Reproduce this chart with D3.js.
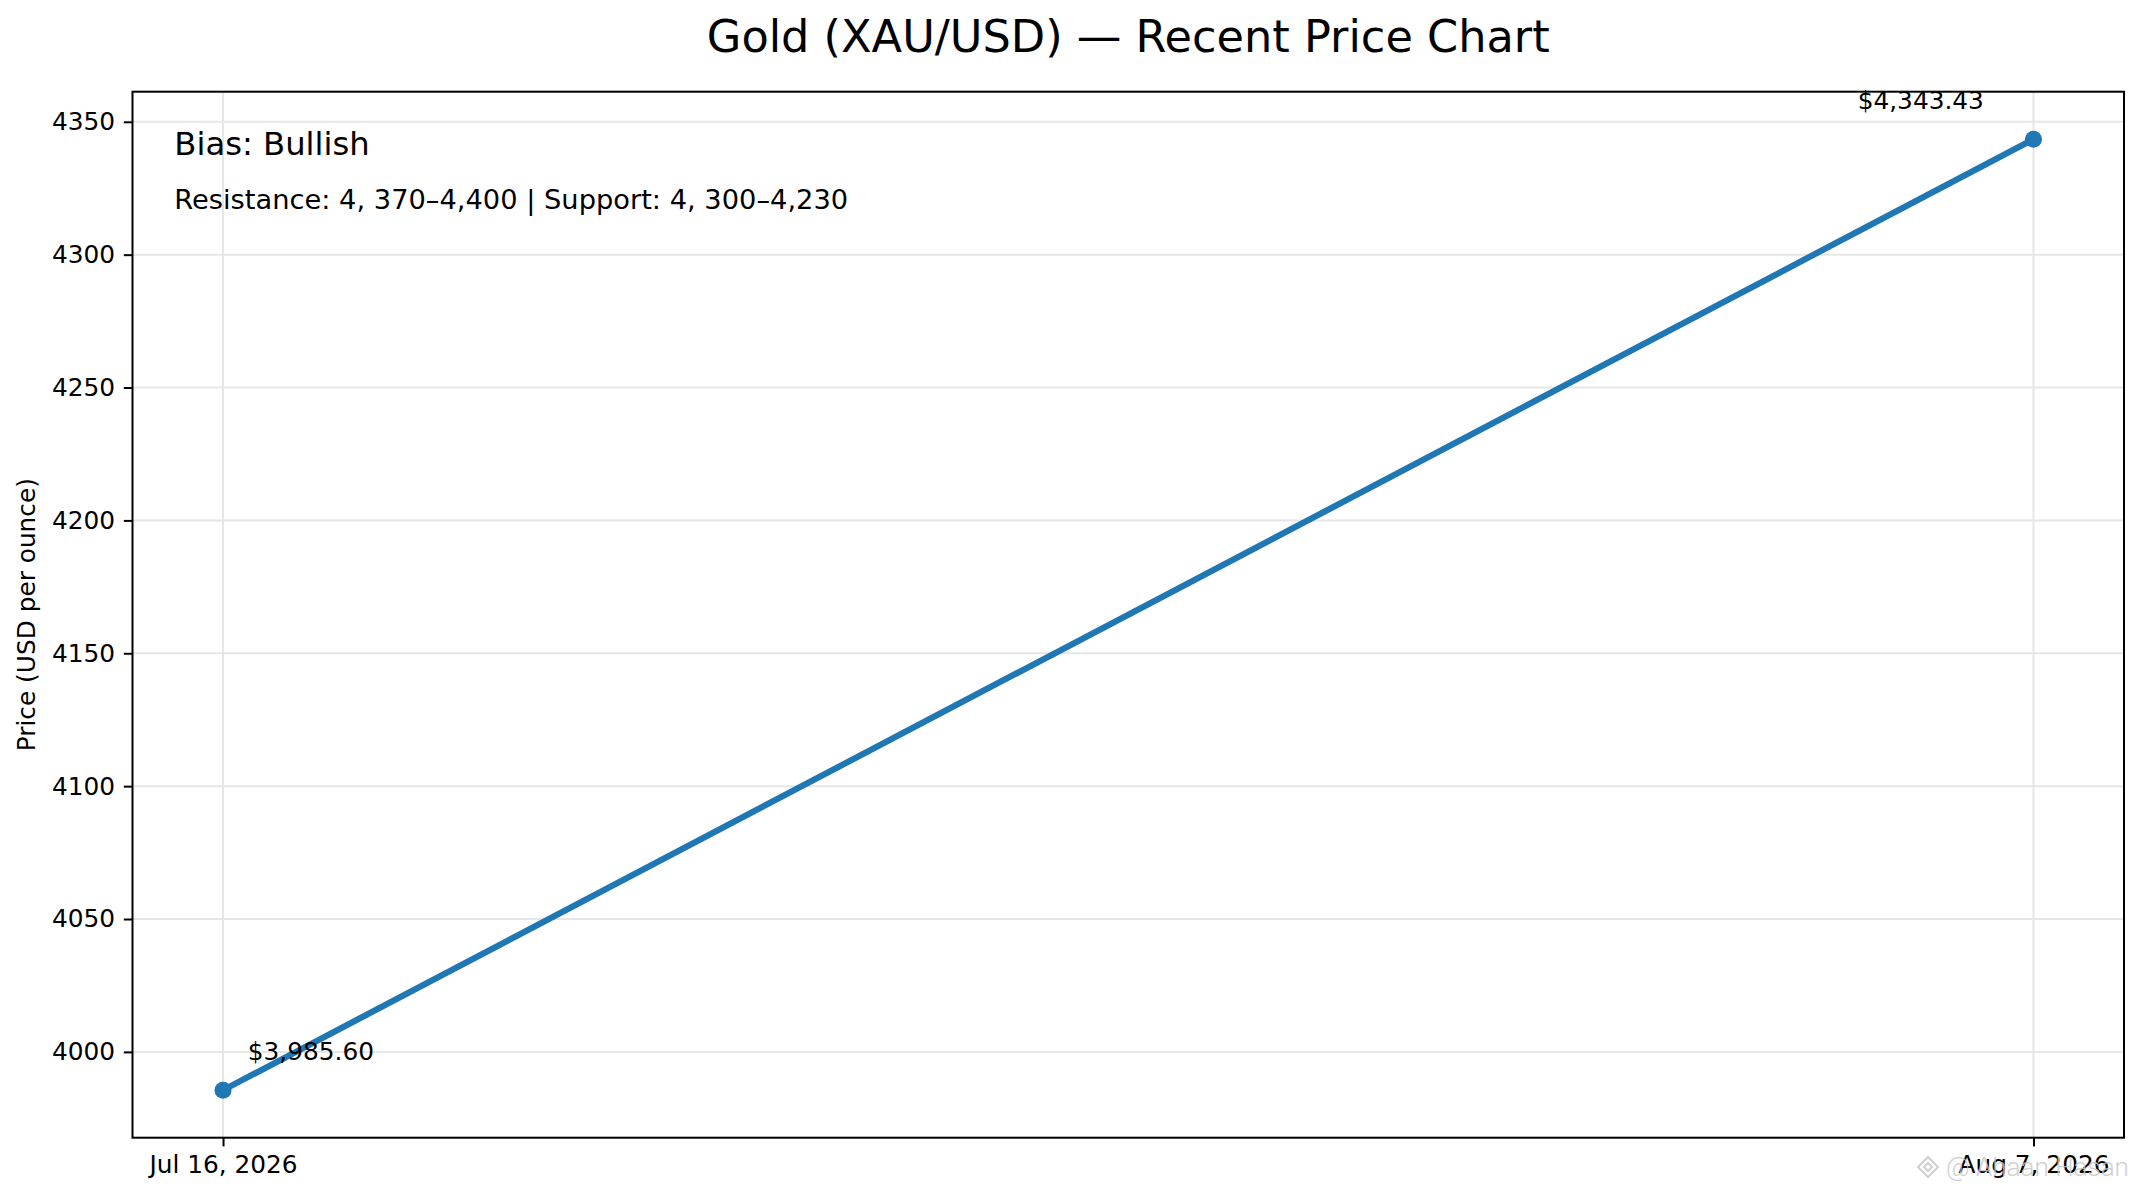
<!DOCTYPE html>
<html>
<head>
<meta charset="utf-8">
<script src="https://cdn.jsdelivr.net/npm/d3@7"></script>
<style>
  html, body { margin: 0; padding: 0; background: #fff; }
  svg { display: block; font-family: "DejaVu Sans", sans-serif; }
</style>
</head>
<body>
<div id="chart"></div>
<script>
// chart values
const dates = ["2026-07-16", "2026-08-07"];
const prices = [3985.60, 4343.43];
const priceLabels = ["$3,985.60", "$4,343.43"];
const xTickLabels = ["Jul 16, 2026", "Aug 7, 2026"];
const yTickValues = [4000, 4050, 4100, 4150, 4200, 4250, 4300, 4350];
const titleText = "Gold (XAU/USD) \u2014 Recent Price Chart";
const yLabelText = "Price (USD per ounce)";
const biasText = "Bias: Bullish";
const levelsText = "Resistance: 4, 370\u20134,400 | Support: 4, 300\u20134,230";

const width = 2141, height = 1197;
const margin = { top: 91.7, right: 17, bottom: 59.3, left: 132.5 };
const innerW = width - margin.left - margin.right;
const innerH = height - margin.top - margin.bottom;
const pt = 2.48; // px per point

const parse = d3.timeParse("%Y-%m-%d");
const data = dates.map((d, i) => ({ date: parse(d), price: prices[i], label: priceLabels[i] }));

// matplotlib style 5% margins
const xExt = d3.extent(data, d => +d.date);
const xPad = (xExt[1] - xExt[0]) * 0.05;
const yExt = d3.extent(data, d => d.price);
const yPad = (yExt[1] - yExt[0]) * 0.05;

const x = d3.scaleTime()
  .domain([new Date(xExt[0] - xPad), new Date(xExt[1] + xPad)])
  .range([0, innerW]);

const y = d3.scaleLinear()
  .domain([yExt[0] - yPad, yExt[1] + yPad])
  .range([innerH, 0]);

const svg = d3.select("#chart").append("svg")
  .attr("width", width)
  .attr("height", height);

svg.append("text")
  .attr("x", margin.left + innerW / 2)
  .attr("y", 52.3)
  .attr("text-anchor", "middle")
  .attr("font-size", 18 * pt)
  .attr("fill", "#000")
  .text(titleText);

const g = svg.append("g")
  .attr("transform", `translate(${margin.left},${margin.top})`);

// grid
g.append("g").selectAll("line.hgrid")
  .data(yTickValues)
  .join("line")
  .attr("x1", 0).attr("x2", innerW)
  .attr("y1", d => y(d)).attr("y2", d => y(d))
  .attr("stroke", "#e6e6e6")
  .attr("stroke-width", 2);

g.append("g").selectAll("line.vgrid")
  .data(data)
  .join("line")
  .attr("x1", d => x(d.date)).attr("x2", d => x(d.date))
  .attr("y1", 0).attr("y2", innerH)
  .attr("stroke", "#e6e6e6")
  .attr("stroke-width", 2);

// axes
const xAxis = d3.axisBottom(x)
  .tickValues(data.map(d => d.date))
  .tickFormat((d, i) => xTickLabels[i])
  .tickSize(3.5 * pt)
  .tickPadding(3.5 * pt);

const yAxis = d3.axisLeft(y)
  .tickValues(yTickValues)
  .tickFormat(d3.format("d"))
  .tickSize(3.5 * pt)
  .tickPadding(3.5 * pt);

const gx = g.append("g")
  .attr("transform", `translate(0,${innerH})`)
  .call(xAxis);
const gy = g.append("g").call(yAxis);

[gx, gy].forEach(a => {
  a.select(".domain").remove();
  a.selectAll(".tick line").attr("stroke", "#000").attr("stroke-width", 2);
  a.selectAll(".tick text")
    .attr("font-family", "DejaVu Sans")
    .attr("font-size", 10 * pt)
    .attr("fill", "#000");
});

// y label
svg.append("text")
  .attr("transform", `translate(35,${margin.top + innerH / 2}) rotate(-90)`)
  .attr("text-anchor", "middle")
  .attr("font-size", 10 * pt)
  .attr("fill", "#000")
  .text(yLabelText);

// line + markers
const line = d3.line()
  .x(d => x(d.date))
  .y(d => y(d.price));

g.append("path")
  .datum(data)
  .attr("d", line)
  .attr("fill", "none")
  .attr("stroke", "#1f77b4")
  .attr("stroke-width", 2.5 * pt)
  .attr("stroke-linecap", "square");

g.selectAll("circle.pt")
  .data(data)
  .join("circle")
  .attr("cx", d => x(d.date))
  .attr("cy", d => y(d.price))
  .attr("r", 8.5)
  .attr("fill", "#1f77b4");

// price annotations
g.selectAll("text.ann")
  .data(data)
  .join("text")
  .attr("x", (d, i) => x(d.date) + (i === 0 ? 10 * pt : -20 * pt))
  .attr("y", d => y(d.price) - 10 * pt - 5.5)
  .attr("text-anchor", (d, i) => i === 0 ? "start" : "end")
  .attr("font-size", 10 * pt)
  .attr("fill", "#000")
  .text(d => d.label);

// info text
g.append("text")
  .attr("x", innerW * 0.02 + 2)
  .attr("y", 63.3)
  .attr("font-size", 13 * pt)
  .attr("fill", "#000")
  .text(biasText);

g.append("text")
  .attr("x", innerW * 0.02 + 2)
  .attr("y", 117.3)
  .attr("font-size", 11 * pt)
  .attr("fill", "#000")
  .text(levelsText);

// frame
g.append("rect")
  .attr("width", innerW)
  .attr("height", innerH)
  .attr("fill", "none")
  .attr("stroke", "#000")
  .attr("stroke-width", 2);

// watermark (overlaid on the image, as in the reference)
const wm = svg.append("g")
  .attr("transform", "translate(1928,1167)")
  .attr("opacity", 0.85);
wm.append("path")
  .attr("d", "M0,-10 L10,0 L0,10 L-10,0 Z M0,-4 L4,0 L0,4 L-4,0 Z")
  .attr("fill", "none")
  .attr("stroke", "#c8c8c8")
  .attr("stroke-width", 2);
wm.append("text")
  .attr("x", 18)
  .attr("y", 9)
  .attr("font-family", "Roboto, sans-serif")
  .attr("font-weight", 300)
  .attr("font-size", 26)
  .attr("fill", "#c8c8c8")
  .text("@ Ahaan Hasan");
</script>
</body>
</html>
